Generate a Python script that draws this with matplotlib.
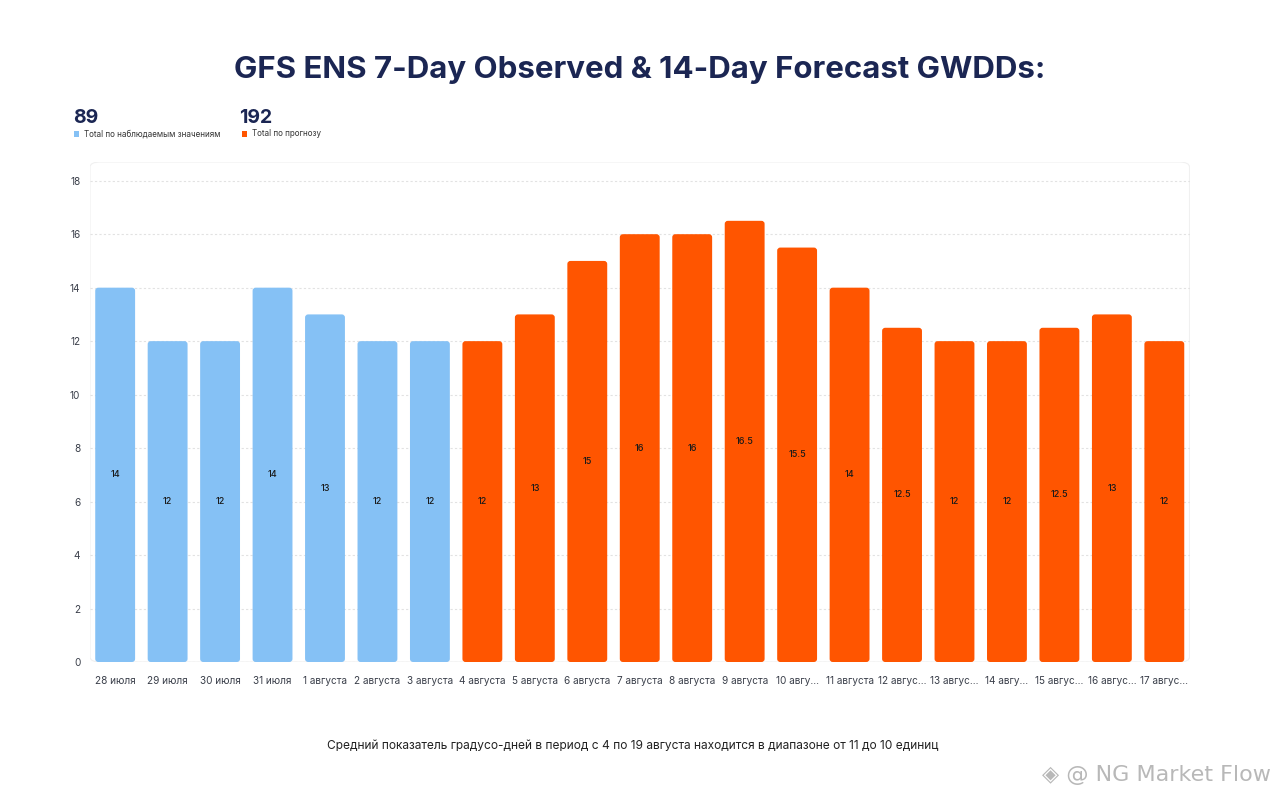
import matplotlib
matplotlib.use("Agg")
import matplotlib.pyplot as plt
from matplotlib.patches import FancyBboxPatch, Rectangle

plt.rcParams['font.family'] = ['Inter', 'DejaVu Sans']

# data
days = ["28 июля", "29 июля", "30 июля", "31 июля", "1 августа", "2 августа", "3 августа",
        "4 августа", "5 августа", "6 августа", "7 августа", "8 августа", "9 августа", "10 авгу...",
        "11 августа", "12 авгус...", "13 авгус...", "14 авгу...", "15 авгус...", "16 авгус...", "17 авгус..."]
observed = [14, 12, 12, 14, 13, 12, 12]
forecast = [12, 13, 15, 16, 16, 16.5, 15.5, 14, 12.5, 12, 12, 12.5, 13, 12]
total_observed = 89
total_forecast = 192

blue = "#85C1F5"
orange = "#FF5500"
navy = "#1B2653"

fig = plt.figure(figsize=(12.8, 8), dpi=100)
ax = fig.add_axes([0.0703, 0.1725, 0.859, 0.625])

values = observed + forecast
colors = [blue] * len(observed) + [orange] * len(forecast)
width = 0.76
for i, (v, c) in enumerate(zip(values, colors)):
    p = FancyBboxPatch((i - width / 2, 0), width, v,
                       boxstyle="round,pad=0,rounding_size=0.06",
                       mutation_aspect=1.9, fc=c, ec="none", zorder=3)
    ax.add_patch(p)
    ax.text(i, v / 2, "%g" % v, ha="center", va="center", fontsize=6.5,
            color="#1a1a1a", fontweight="medium", zorder=4)

ax.set_xlim(-0.48, len(values) - 0.52)
ax.set_ylim(0, 18.7)
ax.set_yticks(range(0, 19, 2))
ax.set_xticks(range(len(values)))
ax.set_xticklabels(days)
ax.tick_params(axis="both", length=0, labelsize=7.2, colors="#3a3f4a")
ax.tick_params(axis="x", pad=10)
ax.tick_params(axis="y", pad=7)
ax.grid(axis="y", color="#e2e2e2", linestyle=(0, (2, 2)), linewidth=0.8, zorder=0)
for s in ax.spines.values():
    s.set_visible(False)
box = FancyBboxPatch((0, 0), 1, 1, boxstyle="round,pad=0,rounding_size=0.01",
                     transform=ax.transAxes, fc="none", ec="#f0f0f0", lw=0.8, zorder=1)
ax.add_patch(box)

fig.text(0.5, 0.913, "GFS ENS 7-Day Observed & 14-Day Forecast GWDDs:", ha="center", va="center",
         fontsize=22.5, fontweight="bold", color=navy)

# totals header
fig.text(0.057, 0.853, str(total_observed), fontsize=14, fontweight="bold", color=navy, va="center")
fig.patches.append(Rectangle((0.058, 0.829), 0.004, 0.007, transform=fig.transFigure, fc=blue, ec="none"))
fig.text(0.066, 0.833, "Total по наблюдаемым значениям", fontsize=5.8, color="#333333", va="center")
fig.text(0.187, 0.853, str(total_forecast), fontsize=14, fontweight="bold", color=navy, va="center")
fig.patches.append(Rectangle((0.189, 0.829), 0.004, 0.007, transform=fig.transFigure, fc=orange, ec="none"))
fig.text(0.197, 0.833, "Total по прогнозу", fontsize=5.8, color="#333333", va="center")

fig.text(0.494, 0.067, "Средний показатель градусо-дней в период с 4 по 19 августа находится в диапазоне от 11 до 10 единиц",
         ha="center", va="center", fontsize=8.6, color="#222222")
fig.text(0.993, 0.031, "◈ @ NG Market Flow", ha="right", va="center", fontsize=16, color="#b8b8b8",
         family=["DejaVu Sans"])

fig.savefig("out.png", dpi=100, facecolor="white")
